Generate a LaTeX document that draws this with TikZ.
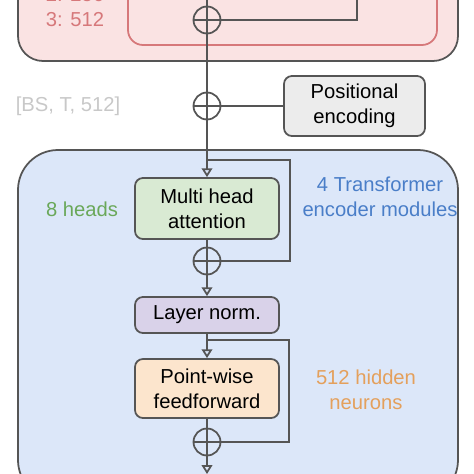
\documentclass[tikz,border=0pt]{standalone}
\usepackage{fontspec}
\setmainfont{Liberation Sans}
\usetikzlibrary{arrows.meta,positioning}

\definecolor{edgegray}{RGB}{85,85,85}
\definecolor{pinkfill}{RGB}{250,227,227}
\definecolor{redline}{RGB}{214,120,122}
\definecolor{bluefill}{RGB}{220,231,249}
\definecolor{bluetext}{RGB}{74,126,200}
\definecolor{greenfill}{RGB}{217,234,211}
\definecolor{greentext}{RGB}{106,168,90}
\definecolor{purplefill}{RGB}{217,210,233}
\definecolor{orangefill}{RGB}{252,229,205}
\definecolor{orangetext}{RGB}{228,160,92}
\definecolor{grayfill}{RGB}{236,236,236}
\definecolor{graytext}{RGB}{200,200,200}

\tikzset{
  line/.style={draw=edgegray, line width=1pt},
  arrowline/.style={line, -{Triangle[open,width=6pt,length=5pt]}},
  blockbox/.style={draw=edgegray, line width=1pt, rounded corners=4.5pt,
    minimum width=2.88cm, align=center, inner sep=0pt,
    font=\fontsize{11.5}{14.2}\selectfont},
  sumnode/.style={circle, draw=edgegray, line width=1pt, minimum size=0.54cm,
    inner sep=0pt,
    path picture={\draw[edgegray, line width=1pt]
      (path picture bounding box.north) -- (path picture bounding box.south)
      (path picture bounding box.west) -- (path picture bounding box.east);}},
  sidetext/.style={align=center, font=\fontsize{11.5}{14.2}\selectfont},
}

\begin{document}
\begin{tikzpicture}[x=0.02cm, y=-0.02cm]
  \useasboundingbox (0,0) rectangle (474,474);

  % upper (red) block, cut at the top
  \draw [line, fill=pinkfill, rounded corners=0.5cm] (18,-60) rectangle (458,61);
  \draw [draw=redline, line width=1pt, fill=pinkfill, rounded corners=0.3cm] (128,-60) rectangle (437,45);
  \node [sidetext, text=redline] (lvl2) at (75,-5) {2: 256};
  \node [sidetext, text=redline] (lvl3) at (75,20) {3: 512};

  % encoder (blue) block
  \draw [line, fill=bluefill, rounded corners=0.8cm] (18,150) rectangle (458,500);

  \coordinate (top) at (207,-60);
  \coordinate (redturn) at (357,-60);
  \coordinate (split1) at (207,160);
  \coordinate (skip1) at (290,261);
  \coordinate (split2) at (207,340);
  \coordinate (skip2) at (289,442);
  \coordinate (bottom) at (207,474);

  \node [sumnode] (sum1) at (207,20) {};
  \node [sumnode] (sum2) at (207,106) {};
  \node [sumnode] (sum3) at (207,261) {};
  \node [sumnode] (sum4) at (207,442) {};

  \node [blockbox, fill=grayfill, minimum width=2.82cm, minimum height=1.2cm] (posenc) at (354.5,106) {Positional\\encoding};
  \node [blockbox, fill=greenfill, minimum height=1.22cm] (mha) at (207,208.5) {Multi head\\attention};
  \node [blockbox, fill=purplefill, minimum height=0.72cm] (lnorm) at (207,315) {Layer norm.};
  \node [blockbox, fill=orangefill, minimum height=1.18cm] (ffwd) at (207,388.5) {Point-wise\\feedforward};

  % connectors
  \draw [line] (top) -- (sum1.north);
  \draw [line] (sum1.east) -| (redturn);
  \draw [line] (sum1.south) -- (sum2.north);
  \draw [line] (posenc.west) -- (sum2.east);
  \draw [line] (sum2.south) -- (split1);
  \draw [arrowline] (split1) -- (mha.north);
  \draw [line] (split1) -| (skip1) -- (sum3.east);
  \draw [line] (mha.south) -- (sum3.north);
  \draw [arrowline] (sum3.south) -- (lnorm.north);
  \draw [line] (lnorm.south) -- (split2);
  \draw [arrowline] (split2) -- (ffwd.north);
  \draw [line] (split2) -| (skip2) -- (sum4.east);
  \draw [line] (ffwd.south) -- (sum4.north);
  \draw [arrowline] (sum4.south) -- (bottom);

  % side labels
  \node [sidetext, text=graytext] (shape) at (68,106) {[BS, T, 512]};
  \node [sidetext, text=greentext] (heads) at (82,209) {8 heads};
  \node [sidetext, text=bluetext] (modules) at (380,196.5) {4 Transformer\\encoder modules};
  \node [sidetext, text=orangetext] (hidden) at (366,390) {512 hidden\\neurons};
\end{tikzpicture}
\end{document}
